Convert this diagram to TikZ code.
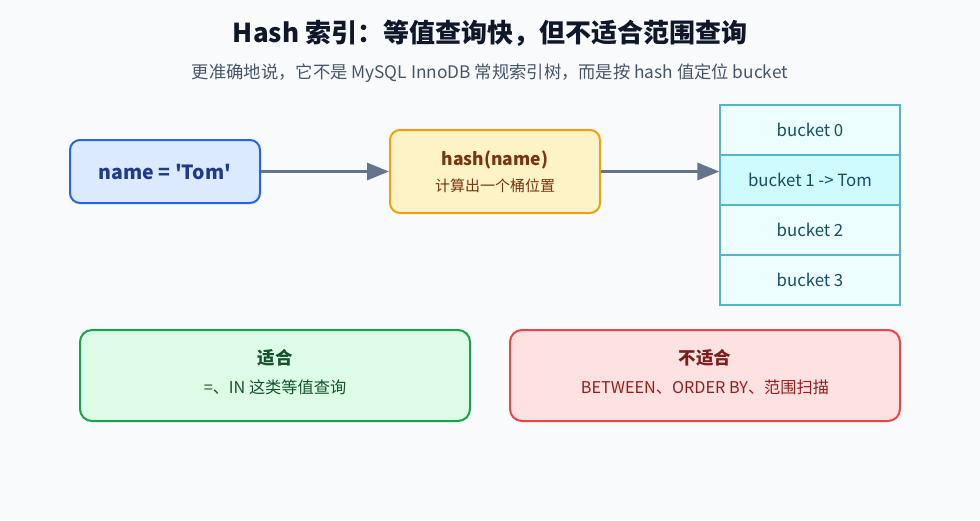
\documentclass[tikz,border=0pt]{standalone}
\usepackage{fontspec}
\setmainfont{Noto Sans CJK SC}[Ligatures=TeXOff]
\usetikzlibrary{arrows.meta}
\definecolor{bg}{HTML}{F8FAFC}
\definecolor{titlec}{HTML}{0F172A}
\definecolor{subc}{HTML}{475569}
\definecolor{blueF}{HTML}{DBEAFE}
\definecolor{blueD}{HTML}{2563EB}
\definecolor{blueT}{HTML}{1E3A8A}
\definecolor{amberF}{HTML}{FEF3C7}
\definecolor{amberD}{HTML}{F59E0B}
\definecolor{amberT}{HTML}{78350F}
\definecolor{arrowc}{HTML}{64748B}
\definecolor{cyanF}{HTML}{ECFEFF}
\definecolor{cyanH}{HTML}{CFFAFE}
\definecolor{cyanD}{HTML}{56B4C9}
\definecolor{cyanT}{HTML}{164E63}
\definecolor{greenF}{HTML}{DCFCE7}
\definecolor{greenD}{HTML}{16A34A}
\definecolor{greenT}{HTML}{14532D}
\definecolor{redF}{HTML}{FEE2E2}
\definecolor{redD}{HTML}{EF4444}
\definecolor{redT}{HTML}{7F1D1D}
\definecolor{redS}{HTML}{991B1B}
\tikzset{
  box/.style={rounded corners=10pt, line width=2pt, inner sep=0pt},
  bucketbox/.style={draw=cyanD, fill=cyanF, line width=1.2pt, minimum width=180pt, minimum height=50pt, inner sep=0pt, text=cyanT, font=\fontsize{16.8}{18}\selectfont},
  flow/.style={draw=arrowc, line width=3pt, -{Triangle[length=22pt,width=17pt]}},
  txt/.style={inner sep=0pt, anchor=base}
}
\begin{document}
\begin{tikzpicture}[x=1pt,y=-1pt]
\useasboundingbox (0,0) rectangle (980,520);
\fill[bg] (0,0) rectangle (980,520);
\node[txt, text=titlec, font=\fontsize{26}{28}\selectfont\bfseries] (title) at (490,42) {Hash 索引：等值查询快，但不适合范围查询};
\node[txt, text=subc, font=\fontsize{17.3}{19}\selectfont] (sub) at (490,78) {更准确地说，它不是 MySQL InnoDB 常规索引树，而是按 hash 值定位 bucket};

\node[box, draw=blueD, fill=blueF, minimum width=190pt, minimum height=63pt, text=blueT, font=\fontsize{19.5}{22}\selectfont\bfseries] (name) at (165,171.5) {name = 'Tom'};

\node[box, draw=amberD, fill=amberF, minimum width=210pt, minimum height=83pt] (hash) at (495,171.5) {};
\node[txt, text=amberT, font=\fontsize{17.5}{19}\selectfont\bfseries] (hasht) at (495,165) {hash(name)};
\node[txt, text=amberT, font=\fontsize{15}{17}\selectfont] (hashs) at (495,191) {计算出一个桶位置};

\node[bucketbox] (b0) at (810,130) {bucket 0};
\node[bucketbox, fill=cyanH] (b1) at (810,180) {bucket 1 -> Tom};
\node[bucketbox] (b2) at (810,230) {bucket 2};
\node[bucketbox] (b3) at (810,280) {bucket 3};

\draw[flow] (name.east) -- (hash.west);
\draw[flow] (hash.east) -- (hash.east -| b1.west);

\node[box, rounded corners=12pt, draw=greenD, fill=greenF, minimum width=390pt, minimum height=91pt] (good) at (275,375.5) {};
\node[txt, text=greenT, font=\fontsize{17.5}{19}\selectfont\bfseries] (goodt) at (275,364) {适合};
\node[txt, text=greenT, font=\fontsize{16.2}{18}\selectfont] (goods) at (275,393) {=、IN 这类等值查询};

\node[box, rounded corners=12pt, draw=redD, fill=redF, minimum width=390pt, minimum height=91pt] (bad) at (705,375.5) {};
\node[txt, text=redT, font=\fontsize{17.5}{19}\selectfont\bfseries] (badt) at (705,364) {不适合};
\node[txt, text=redS, font=\fontsize{16.2}{18}\selectfont] (bads) at (705,393) {BETWEEN、ORDER BY、范围扫描};
\end{tikzpicture}
\end{document}
